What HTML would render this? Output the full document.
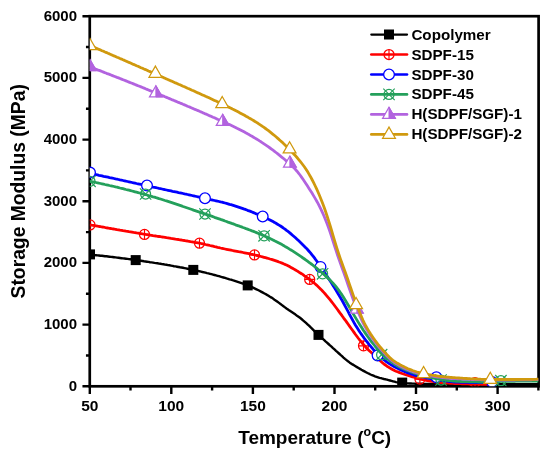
<!DOCTYPE html>
<html><head><meta charset="utf-8"><title>Storage Modulus vs Temperature</title>
<style>
html,body{margin:0;padding:0;background:#fff;}
svg{display:block;}
text{font-family:"Liberation Sans",Arial,sans-serif;font-weight:bold;fill:#000;}
</style></head><body>
<svg width="550" height="454" viewBox="0 0 550 454">
<rect width="550" height="454" fill="#fff"/>
<defs><clipPath id="plot"><rect x="89.75" y="16.2" width="448.85" height="370.1"/></clipPath></defs>

<rect x="89.75" y="16.2" width="448.85" height="370.1" fill="none" stroke="#000" stroke-width="2.7"/>
<path d="M89.8,386.3v7.6M130.5,386.3v4.2M171.3,386.3v7.6M212.1,386.3v4.2M252.9,386.3v7.6M293.7,386.3v4.2M334.5,386.3v7.6M375.2,386.3v4.2M416.0,386.3v7.6M456.8,386.3v4.2M497.6,386.3v7.6M538.4,386.3v4.2M89.75,386.3h-7.3M89.75,355.5h-3.8M89.75,324.6h-7.3M89.75,293.8h-3.8M89.75,262.9h-7.3M89.75,232.1h-3.8M89.75,201.2h-7.3M89.75,170.4h-3.8M89.75,139.6h-7.3M89.75,108.7h-3.8M89.75,77.9h-7.3M89.75,47.0h-3.8M89.75,16.2h-7.3" stroke="#000" stroke-width="2.4" fill="none"/>
<g clip-path="url(#plot)">
<path d="M90.0,254.6 L91.5,254.7 L93.0,254.9 L94.5,255.1 L96.0,255.2 L97.5,255.4 L99.0,255.5 L100.5,255.7 L102.0,255.8 L103.5,256.0 L105.0,256.2 L106.5,256.3 L108.0,256.5 L109.5,256.7 L111.0,256.9 L112.5,257.0 L114.0,257.2 L115.5,257.4 L117.0,257.6 L118.5,257.8 L120.0,258.0 L121.5,258.2 L123.0,258.4 L124.5,258.5 L126.0,258.7 L127.5,258.9 L129.0,259.1 L130.5,259.3 L132.0,259.6 L133.5,259.8 L135.0,260.0 L136.5,260.2 L138.0,260.4 L139.5,260.6 L141.0,260.8 L142.5,261.0 L144.0,261.3 L145.5,261.5 L147.0,261.7 L148.5,261.9 L150.0,262.2 L151.5,262.4 L153.0,262.6 L154.5,262.9 L156.0,263.1 L157.5,263.3 L159.0,263.6 L160.5,263.8 L162.0,264.1 L163.5,264.3 L165.0,264.6 L166.5,264.8 L168.0,265.1 L169.5,265.3 L171.0,265.6 L172.5,265.9 L174.0,266.2 L175.5,266.4 L177.0,266.7 L178.5,267.0 L180.0,267.3 L181.5,267.5 L183.0,267.8 L184.5,268.1 L186.0,268.4 L187.5,268.7 L189.0,269.0 L190.5,269.3 L192.0,269.6 L193.5,270.0 L195.0,270.3 L196.5,270.6 L198.0,270.9 L199.5,271.3 L201.0,271.6 L202.5,272.0 L204.0,272.3 L205.5,272.7 L207.0,273.1 L208.5,273.4 L210.0,273.8 L211.5,274.2 L213.0,274.6 L214.5,275.0 L216.0,275.4 L217.5,275.8 L219.0,276.2 L220.5,276.7 L222.0,277.1 L223.5,277.5 L225.0,277.9 L226.5,278.4 L228.0,278.8 L229.5,279.3 L231.0,279.7 L232.5,280.2 L234.0,280.6 L235.5,281.1 L237.0,281.6 L238.5,282.1 L240.0,282.6 L241.5,283.1 L243.0,283.7 L244.5,284.2 L246.0,284.8 L247.5,285.4 L249.0,286.0 L250.5,286.6 L252.0,287.2 L253.5,287.9 L255.0,288.6 L256.5,289.3 L258.0,290.0 L259.5,290.8 L261.0,291.6 L262.5,292.4 L264.0,293.2 L265.5,294.0 L267.0,294.9 L268.5,295.7 L270.0,296.7 L271.5,297.6 L273.0,298.6 L274.5,299.7 L276.0,300.7 L277.5,301.8 L279.0,302.9 L280.5,304.0 L282.0,305.1 L283.5,306.3 L285.0,307.4 L286.5,308.5 L288.0,309.5 L289.5,310.6 L291.0,311.6 L292.5,312.6 L294.0,313.6 L295.5,314.6 L297.0,315.7 L298.5,316.7 L300.0,317.8 L301.5,319.0 L303.0,320.3 L304.5,321.6 L306.0,322.9 L307.5,324.3 L309.0,325.7 L310.5,327.2 L312.0,328.6 L313.5,330.1 L315.0,331.5 L316.5,333.0 L318.0,334.4 L319.5,335.8 L321.0,337.2 L322.5,338.6 L324.0,339.9 L325.5,341.3 L327.0,342.6 L328.5,344.0 L330.0,345.4 L331.5,346.7 L333.0,348.1 L334.5,349.4 L336.0,350.8 L337.5,352.1 L339.0,353.5 L340.5,354.9 L342.0,356.2 L343.5,357.6 L345.0,358.9 L346.5,360.1 L348.0,361.3 L349.5,362.4 L351.0,363.4 L352.5,364.4 L354.0,365.3 L355.5,366.2 L357.0,367.1 L358.5,368.0 L360.0,368.9 L361.5,369.8 L363.0,370.6 L364.5,371.4 L366.0,372.2 L367.5,373.0 L369.0,373.7 L370.5,374.5 L372.0,375.1 L373.5,375.7 L375.0,376.3 L376.5,376.8 L378.0,377.3 L379.5,377.8 L381.0,378.2 L382.5,378.6 L384.0,379.0 L385.5,379.3 L387.0,379.7 L388.5,380.1 L390.0,380.5 L391.5,380.9 L393.0,381.3 L394.5,381.7 L396.0,382.1 L397.5,382.4 L399.0,382.7 L400.5,382.9 L402.0,383.1 L403.5,383.2 L405.0,383.3 L406.5,383.4 L408.0,383.4 L409.5,383.5 L411.0,383.5 L412.5,383.6 L414.0,383.6 L415.5,383.7 L417.0,383.7 L418.5,383.7 L420.0,383.8 L421.5,383.8 L423.0,383.8 L424.5,383.9 L426.0,383.9 L427.5,383.9 L429.0,383.9 L430.5,383.9 L432.0,383.9 L433.5,384.0 L435.0,384.0 L436.5,384.0 L438.0,384.0 L439.5,384.0 L441.0,384.0 L442.5,384.0 L444.0,384.0 L445.5,384.0 L447.0,384.0 L448.5,384.0 L450.0,384.0 L451.5,384.0 L453.0,384.1 L454.5,384.1 L456.0,384.1 L457.5,384.1 L459.0,384.1 L460.5,384.1 L462.0,384.1 L463.5,384.1 L465.0,384.1 L466.5,384.1 L468.0,384.1 L469.5,384.1 L471.0,384.1 L472.5,384.1 L474.0,384.1 L475.5,384.1 L477.0,384.1 L478.5,384.1 L480.0,384.1 L481.5,384.1 L483.0,384.1 L484.5,384.1 L486.0,384.1 L487.5,384.1 L489.0,384.2 L490.5,384.2 L492.0,384.2 L493.5,384.2 L495.0,384.2 L496.5,384.2 L498.0,384.2 L499.5,384.2 L501.0,384.2 L502.5,384.2 L504.0,384.2 L505.5,384.2 L507.0,384.2 L508.5,384.2 L510.0,384.2 L511.5,384.2 L513.0,384.2 L514.5,384.2 L516.0,384.2 L517.5,384.2 L519.0,384.2 L520.5,384.2 L522.0,384.2 L523.5,384.2 L525.0,384.2 L526.5,384.2 L528.0,384.2 L529.5,384.2 L531.0,384.2 L532.5,384.2 L534.0,384.2 L535.5,384.2 L537.0,384.2 L538.5,384.2" fill="none" stroke="#000000" stroke-width="2.4" stroke-linejoin="round"/>
<rect x="85.0" y="249.4" width="10" height="10" fill="#000000"/>
<rect x="130.7" y="255.1" width="10" height="10" fill="#000000"/>
<rect x="188.3" y="264.9" width="10" height="10" fill="#000000"/>
<rect x="242.7" y="280.4" width="10" height="10" fill="#000000"/>
<rect x="313.5" y="329.9" width="10" height="10" fill="#000000"/>
<rect x="397.2" y="377.6" width="10" height="10" fill="#000000"/>
<path d="M90.0,224.9 L91.5,225.2 L93.0,225.4 L94.5,225.7 L96.0,225.9 L97.5,226.2 L99.0,226.5 L100.5,226.7 L102.0,227.0 L103.5,227.2 L105.0,227.5 L106.5,227.8 L108.0,228.0 L109.5,228.3 L111.0,228.5 L112.5,228.8 L114.0,229.0 L115.5,229.3 L117.0,229.6 L118.5,229.8 L120.0,230.1 L121.5,230.3 L123.0,230.6 L124.5,230.8 L126.0,231.1 L127.5,231.3 L129.0,231.6 L130.5,231.8 L132.0,232.1 L133.5,232.4 L135.0,232.6 L136.5,232.9 L138.0,233.1 L139.5,233.4 L141.0,233.6 L142.5,233.9 L144.0,234.1 L145.5,234.4 L147.0,234.6 L148.5,234.9 L150.0,235.1 L151.5,235.3 L153.0,235.6 L154.5,235.8 L156.0,236.0 L157.5,236.3 L159.0,236.5 L160.5,236.7 L162.0,237.0 L163.5,237.2 L165.0,237.4 L166.5,237.7 L168.0,237.9 L169.5,238.1 L171.0,238.4 L172.5,238.6 L174.0,238.8 L175.5,239.1 L177.0,239.3 L178.5,239.5 L180.0,239.8 L181.5,240.0 L183.0,240.3 L184.5,240.5 L186.0,240.8 L187.5,241.0 L189.0,241.3 L190.5,241.6 L192.0,241.8 L193.5,242.1 L195.0,242.4 L196.5,242.6 L198.0,242.9 L199.5,243.2 L201.0,243.5 L202.5,243.8 L204.0,244.1 L205.5,244.5 L207.0,244.8 L208.5,245.1 L210.0,245.5 L211.5,245.8 L213.0,246.2 L214.5,246.6 L216.0,246.9 L217.5,247.3 L219.0,247.6 L220.5,248.0 L222.0,248.3 L223.5,248.7 L225.0,249.0 L226.5,249.3 L228.0,249.6 L229.5,249.9 L231.0,250.2 L232.5,250.5 L234.0,250.8 L235.5,251.1 L237.0,251.4 L238.5,251.7 L240.0,251.9 L241.5,252.2 L243.0,252.5 L244.5,252.8 L246.0,253.1 L247.5,253.4 L249.0,253.7 L250.5,254.0 L252.0,254.3 L253.5,254.7 L255.0,255.0 L256.5,255.4 L258.0,255.8 L259.5,256.1 L261.0,256.5 L262.5,256.9 L264.0,257.3 L265.5,257.7 L267.0,258.1 L268.5,258.5 L270.0,259.0 L271.5,259.4 L273.0,259.9 L274.5,260.4 L276.0,260.9 L277.5,261.4 L279.0,262.0 L280.5,262.5 L282.0,263.1 L283.5,263.8 L285.0,264.4 L286.5,265.1 L288.0,265.8 L289.5,266.6 L291.0,267.4 L292.5,268.2 L294.0,269.1 L295.5,270.0 L297.0,270.9 L298.5,271.8 L300.0,272.8 L301.5,273.7 L303.0,274.7 L304.5,275.8 L306.0,276.8 L307.5,277.9 L309.0,279.0 L310.5,280.1 L312.0,281.3 L313.5,282.5 L315.0,283.8 L316.5,285.1 L318.0,286.5 L319.5,287.9 L321.0,289.4 L322.5,291.0 L324.0,292.6 L325.5,294.3 L327.0,296.1 L328.5,297.9 L330.0,299.7 L331.5,301.6 L333.0,303.5 L334.5,305.5 L336.0,307.5 L337.5,309.5 L339.0,311.6 L340.5,313.7 L342.0,315.7 L343.5,317.8 L345.0,319.8 L346.5,321.9 L348.0,324.0 L349.5,326.1 L351.0,328.2 L352.5,330.3 L354.0,332.4 L355.5,334.5 L357.0,336.5 L358.5,338.5 L360.0,340.4 L361.5,342.2 L363.0,344.0 L364.5,345.7 L366.0,347.4 L367.5,348.9 L369.0,350.4 L370.5,351.8 L372.0,353.1 L373.5,354.5 L375.0,355.9 L376.5,357.3 L378.0,358.8 L379.5,360.1 L381.0,361.5 L382.5,362.8 L384.0,364.0 L385.5,365.1 L387.0,366.2 L388.5,367.1 L390.0,368.1 L391.5,368.9 L393.0,369.7 L394.5,370.5 L396.0,371.2 L397.5,371.8 L399.0,372.4 L400.5,373.0 L402.0,373.5 L403.5,374.0 L405.0,374.5 L406.5,375.0 L408.0,375.4 L409.5,375.9 L411.0,376.3 L412.5,376.8 L414.0,377.2 L415.5,377.7 L417.0,378.2 L418.5,378.6 L420.0,379.0 L421.5,379.4 L423.0,379.7 L424.5,380.0 L426.0,380.3 L427.5,380.6 L429.0,380.9 L430.5,381.1 L432.0,381.4 L433.5,381.6 L435.0,381.8 L436.5,382.0 L438.0,382.2 L439.5,382.4 L441.0,382.6 L442.5,382.7 L444.0,382.9 L445.5,383.0 L447.0,383.1 L448.5,383.2 L450.0,383.3 L451.5,383.4 L453.0,383.4 L454.5,383.5 L456.0,383.6 L457.5,383.6 L459.0,383.7 L460.5,383.7 L462.0,383.8 L463.5,383.8 L465.0,383.9 L466.5,383.9 L468.0,383.9 L469.5,384.0 L471.0,384.0 L472.5,384.1 L474.0,384.1 L475.5,384.1 L477.0,384.2 L478.5,384.2 L480.0,384.2 L481.5,384.3 L483.0,384.3 L484.5,384.3 L486.0,384.3 L487.5,384.4 L489.0,384.4" fill="none" stroke="#ff0000" stroke-width="2.8" stroke-linejoin="round"/>
<circle cx="90.0" cy="224.9" r="5.0" fill="none" stroke="#ff0000" stroke-width="1.25"/><path d="M85.0,224.9h10M90.0,219.9v10" stroke="#ff0000" stroke-width="1.15" fill="none"/>
<circle cx="144.5" cy="234.4" r="5.0" fill="none" stroke="#ff0000" stroke-width="1.25"/><path d="M139.5,234.4h10M144.5,229.4v10" stroke="#ff0000" stroke-width="1.15" fill="none"/>
<circle cx="199.5" cy="243.2" r="5.0" fill="none" stroke="#ff0000" stroke-width="1.25"/><path d="M194.5,243.2h10M199.5,238.2v10" stroke="#ff0000" stroke-width="1.15" fill="none"/>
<circle cx="254.5" cy="254.9" r="5.0" fill="none" stroke="#ff0000" stroke-width="1.25"/><path d="M249.5,254.9h10M254.5,249.9v10" stroke="#ff0000" stroke-width="1.15" fill="none"/>
<circle cx="309.7" cy="279.4" r="5.0" fill="none" stroke="#ff0000" stroke-width="1.25"/><path d="M304.7,279.4h10M309.7,274.4v10" stroke="#ff0000" stroke-width="1.15" fill="none"/>
<circle cx="363.5" cy="345.8" r="5.0" fill="none" stroke="#ff0000" stroke-width="1.25"/><path d="M358.5,345.8h10M363.5,340.8v10" stroke="#ff0000" stroke-width="1.15" fill="none"/>
<circle cx="419.9" cy="379.1" r="5.0" fill="none" stroke="#ff0000" stroke-width="1.25"/><path d="M414.9,379.1h10M419.9,374.1v10" stroke="#ff0000" stroke-width="1.15" fill="none"/>
<circle cx="475.0" cy="382.5" r="5.0" fill="none" stroke="#ff0000" stroke-width="1.25"/><path d="M470.0,382.5h10M475.0,377.5v10" stroke="#ff0000" stroke-width="1.15" fill="none"/>
<path d="M90.0,173.3 L91.5,173.6 L93.0,174.0 L94.5,174.3 L96.0,174.6 L97.5,174.9 L99.0,175.3 L100.5,175.6 L102.0,175.9 L103.5,176.3 L105.0,176.6 L106.5,176.9 L108.0,177.2 L109.5,177.6 L111.0,177.9 L112.5,178.2 L114.0,178.5 L115.5,178.9 L117.0,179.2 L118.5,179.5 L120.0,179.9 L121.5,180.2 L123.0,180.5 L124.5,180.8 L126.0,181.2 L127.5,181.5 L129.0,181.8 L130.5,182.2 L132.0,182.5 L133.5,182.8 L135.0,183.1 L136.5,183.5 L138.0,183.8 L139.5,184.1 L141.0,184.4 L142.5,184.8 L144.0,185.1 L145.5,185.4 L147.0,185.8 L148.5,186.1 L150.0,186.4 L151.5,186.7 L153.0,187.1 L154.5,187.4 L156.0,187.7 L157.5,188.0 L159.0,188.4 L160.5,188.7 L162.0,189.0 L163.5,189.3 L165.0,189.7 L166.5,190.0 L168.0,190.3 L169.5,190.6 L171.0,190.9 L172.5,191.3 L174.0,191.6 L175.5,191.9 L177.0,192.2 L178.5,192.6 L180.0,192.9 L181.5,193.2 L183.0,193.5 L184.5,193.9 L186.0,194.2 L187.5,194.5 L189.0,194.8 L190.5,195.2 L192.0,195.5 L193.5,195.8 L195.0,196.2 L196.5,196.5 L198.0,196.8 L199.5,197.2 L201.0,197.5 L202.5,197.8 L204.0,198.2 L205.5,198.5 L207.0,198.8 L208.5,199.2 L210.0,199.5 L211.5,199.8 L213.0,200.2 L214.5,200.5 L216.0,200.8 L217.5,201.2 L219.0,201.5 L220.5,201.9 L222.0,202.2 L223.5,202.6 L225.0,203.0 L226.5,203.4 L228.0,203.8 L229.5,204.3 L231.0,204.7 L232.5,205.1 L234.0,205.6 L235.5,206.1 L237.0,206.6 L238.5,207.1 L240.0,207.6 L241.5,208.1 L243.0,208.6 L244.5,209.2 L246.0,209.7 L247.5,210.3 L249.0,210.8 L250.5,211.4 L252.0,212.0 L253.5,212.6 L255.0,213.2 L256.5,213.9 L258.0,214.5 L259.5,215.1 L261.0,215.8 L262.5,216.4 L264.0,217.1 L265.5,217.8 L267.0,218.5 L268.5,219.3 L270.0,220.0 L271.5,220.8 L273.0,221.6 L274.5,222.4 L276.0,223.3 L277.5,224.2 L279.0,225.1 L280.5,226.0 L282.0,227.0 L283.5,228.1 L285.0,229.1 L286.5,230.3 L288.0,231.4 L289.5,232.6 L291.0,233.9 L292.5,235.2 L294.0,236.5 L295.5,237.8 L297.0,239.2 L298.5,240.6 L300.0,242.0 L301.5,243.4 L303.0,244.9 L304.5,246.4 L306.0,247.9 L307.5,249.5 L309.0,251.2 L310.5,252.9 L312.0,254.8 L313.5,256.7 L315.0,258.7 L316.5,260.8 L318.0,262.9 L319.5,265.1 L321.0,267.2 L322.5,269.4 L324.0,271.6 L325.5,273.9 L327.0,276.1 L328.5,278.4 L330.0,280.7 L331.5,283.0 L333.0,285.4 L334.5,287.8 L336.0,290.2 L337.5,292.7 L339.0,295.2 L340.5,297.7 L342.0,300.3 L343.5,303.0 L345.0,305.8 L346.5,308.6 L348.0,311.4 L349.5,314.3 L351.0,317.1 L352.5,319.9 L354.0,322.6 L355.5,325.2 L357.0,327.6 L358.5,330.0 L360.0,332.3 L361.5,334.4 L363.0,336.5 L364.5,338.6 L366.0,340.5 L367.5,342.4 L369.0,344.3 L370.5,346.1 L372.0,347.9 L373.5,349.7 L375.0,351.4 L376.5,353.0 L378.0,354.5 L379.5,356.0 L381.0,357.4 L382.5,358.6 L384.0,359.8 L385.5,361.0 L387.0,362.1 L388.5,363.1 L390.0,364.1 L391.5,365.0 L393.0,365.9 L394.5,366.7 L396.0,367.5 L397.5,368.3 L399.0,369.0 L400.5,369.7 L402.0,370.4 L403.5,371.0 L405.0,371.7 L406.5,372.3 L408.0,372.8 L409.5,373.4 L411.0,373.9 L412.5,374.4 L414.0,374.8 L415.5,375.3 L417.0,375.7 L418.5,376.1 L420.0,376.4 L421.5,376.8 L423.0,377.1 L424.5,377.5 L426.0,377.8 L427.5,378.1 L429.0,378.4 L430.5,378.6 L432.0,378.9 L433.5,379.1 L435.0,379.4 L436.5,379.6 L438.0,379.8 L439.5,380.1 L441.0,380.3 L442.5,380.5 L444.0,380.8 L445.5,381.0 L447.0,381.2 L448.5,381.4 L450.0,381.6 L451.5,381.7 L453.0,381.9 L454.5,382.0 L456.0,382.1 L457.5,382.2 L459.0,382.2 L460.5,382.3 L462.0,382.3 L463.5,382.3 L465.0,382.4 L466.5,382.4 L468.0,382.4 L469.5,382.5 L471.0,382.5 L472.5,382.5 L474.0,382.5 L475.5,382.5 L477.0,382.6 L478.5,382.6 L480.0,382.6 L481.5,382.6 L483.0,382.6 L484.5,382.6 L486.0,382.6 L487.5,382.5 L489.0,382.5 L490.5,382.5 L492.0,382.4 L493.5,382.3 L495.0,382.3 L496.5,382.2 L498.0,382.1 L499.5,382.0" fill="none" stroke="#0000ff" stroke-width="2.8" stroke-linejoin="round"/>
<circle cx="90.0" cy="172.6" r="5.35" fill="#fff" stroke="#0000ff" stroke-width="1.3"/>
<circle cx="147.0" cy="185.5" r="5.35" fill="#fff" stroke="#0000ff" stroke-width="1.3"/>
<circle cx="205.0" cy="198.2" r="5.35" fill="#fff" stroke="#0000ff" stroke-width="1.3"/>
<circle cx="262.7" cy="216.5" r="5.35" fill="#fff" stroke="#0000ff" stroke-width="1.3"/>
<circle cx="320.5" cy="266.9" r="5.35" fill="#fff" stroke="#0000ff" stroke-width="1.3"/>
<circle cx="377.6" cy="355.4" r="5.35" fill="#fff" stroke="#0000ff" stroke-width="1.3"/>
<circle cx="436.4" cy="377.2" r="5.35" fill="#fff" stroke="#0000ff" stroke-width="1.3"/>
<circle cx="492.0" cy="382.0" r="5.35" fill="#fff" stroke="#0000ff" stroke-width="1.3"/>
<path d="M90.0,181.3 L91.5,181.6 L93.0,181.9 L94.5,182.2 L96.0,182.5 L97.5,182.8 L99.0,183.2 L100.5,183.5 L102.0,183.8 L103.5,184.1 L105.0,184.5 L106.5,184.8 L108.0,185.1 L109.5,185.5 L111.0,185.8 L112.5,186.2 L114.0,186.5 L115.5,186.9 L117.0,187.2 L118.5,187.6 L120.0,188.0 L121.5,188.3 L123.0,188.7 L124.5,189.1 L126.0,189.5 L127.5,189.8 L129.0,190.2 L130.5,190.6 L132.0,191.0 L133.5,191.4 L135.0,191.8 L136.5,192.2 L138.0,192.6 L139.5,193.0 L141.0,193.4 L142.5,193.8 L144.0,194.2 L145.5,194.6 L147.0,195.0 L148.5,195.5 L150.0,195.9 L151.5,196.3 L153.0,196.8 L154.5,197.2 L156.0,197.7 L157.5,198.1 L159.0,198.6 L160.5,199.0 L162.0,199.5 L163.5,200.0 L165.0,200.5 L166.5,200.9 L168.0,201.4 L169.5,201.9 L171.0,202.4 L172.5,202.9 L174.0,203.4 L175.5,203.9 L177.0,204.4 L178.5,204.9 L180.0,205.4 L181.5,205.9 L183.0,206.5 L184.5,207.0 L186.0,207.5 L187.5,208.0 L189.0,208.5 L190.5,209.0 L192.0,209.5 L193.5,210.1 L195.0,210.6 L196.5,211.1 L198.0,211.6 L199.5,212.1 L201.0,212.6 L202.5,213.1 L204.0,213.7 L205.5,214.2 L207.0,214.7 L208.5,215.2 L210.0,215.7 L211.5,216.2 L213.0,216.7 L214.5,217.3 L216.0,217.8 L217.5,218.3 L219.0,218.8 L220.5,219.4 L222.0,219.9 L223.5,220.4 L225.0,221.0 L226.5,221.5 L228.0,222.1 L229.5,222.6 L231.0,223.1 L232.5,223.7 L234.0,224.2 L235.5,224.8 L237.0,225.3 L238.5,225.8 L240.0,226.4 L241.5,226.9 L243.0,227.5 L244.5,228.0 L246.0,228.6 L247.5,229.1 L249.0,229.7 L250.5,230.3 L252.0,230.9 L253.5,231.4 L255.0,232.0 L256.5,232.6 L258.0,233.2 L259.5,233.9 L261.0,234.5 L262.5,235.1 L264.0,235.8 L265.5,236.4 L267.0,237.1 L268.5,237.8 L270.0,238.5 L271.5,239.2 L273.0,239.9 L274.5,240.7 L276.0,241.4 L277.5,242.2 L279.0,243.0 L280.5,243.8 L282.0,244.6 L283.5,245.5 L285.0,246.4 L286.5,247.2 L288.0,248.1 L289.5,249.1 L291.0,250.0 L292.5,250.9 L294.0,251.9 L295.5,252.9 L297.0,253.9 L298.5,254.9 L300.0,255.9 L301.5,256.9 L303.0,258.0 L304.5,259.0 L306.0,260.1 L307.5,261.2 L309.0,262.3 L310.5,263.4 L312.0,264.5 L313.5,265.7 L315.0,266.8 L316.5,268.0 L318.0,269.3 L319.5,270.5 L321.0,271.8 L322.5,273.1 L324.0,274.4 L325.5,275.7 L327.0,277.1 L328.5,278.5 L330.0,280.0 L331.5,281.6 L333.0,283.2 L334.5,284.9 L336.0,286.7 L337.5,288.6 L339.0,290.6 L340.5,292.7 L342.0,294.9 L343.5,297.3 L345.0,299.7 L346.5,302.2 L348.0,304.8 L349.5,307.3 L351.0,309.9 L352.5,312.5 L354.0,315.1 L355.5,317.6 L357.0,320.1 L358.5,322.6 L360.0,325.0 L361.5,327.3 L363.0,329.7 L364.5,331.9 L366.0,334.1 L367.5,336.2 L369.0,338.3 L370.5,340.3 L372.0,342.3 L373.5,344.1 L375.0,346.0 L376.5,347.8 L378.0,349.5 L379.5,351.1 L381.0,352.7 L382.5,354.2 L384.0,355.7 L385.5,357.1 L387.0,358.5 L388.5,359.8 L390.0,361.1 L391.5,362.2 L393.0,363.2 L394.5,364.2 L396.0,365.1 L397.5,365.9 L399.0,366.7 L400.5,367.5 L402.0,368.2 L403.5,368.9 L405.0,369.5 L406.5,370.1 L408.0,370.7 L409.5,371.3 L411.0,371.9 L412.5,372.4 L414.0,372.9 L415.5,373.5 L417.0,374.0 L418.5,374.4 L420.0,374.9 L421.5,375.3 L423.0,375.7 L424.5,376.1 L426.0,376.5 L427.5,376.9 L429.0,377.2 L430.5,377.5 L432.0,377.9 L433.5,378.2 L435.0,378.5 L436.5,378.7 L438.0,379.0 L439.5,379.2 L441.0,379.5 L442.5,379.7 L444.0,379.9 L445.5,380.1 L447.0,380.3 L448.5,380.5 L450.0,380.7 L451.5,380.9 L453.0,381.0 L454.5,381.2 L456.0,381.3 L457.5,381.4 L459.0,381.4 L460.5,381.5 L462.0,381.6 L463.5,381.6 L465.0,381.7 L466.5,381.7 L468.0,381.7 L469.5,381.8 L471.0,381.8 L472.5,381.9 L474.0,381.9 L475.5,381.9 L477.0,381.9 L478.5,382.0 L480.0,382.0 L481.5,382.0 L483.0,382.0 L484.5,382.0 L486.0,382.0 L487.5,381.9 L489.0,381.9 L490.5,381.9 L492.0,381.8 L493.5,381.7 L495.0,381.7 L496.5,381.6 L498.0,381.5 L499.5,381.5 L501.0,381.4 L502.5,381.4 L504.0,381.3 L505.5,381.3 L507.0,381.3 L508.5,381.3 L510.0,381.3 L511.5,381.3 L513.0,381.3 L514.5,381.3 L516.0,381.2 L517.5,381.2 L519.0,381.2 L520.5,381.2 L522.0,381.2 L523.5,381.2 L525.0,381.2 L526.5,381.2 L528.0,381.2 L529.5,381.2 L531.0,381.2 L532.5,381.2 L534.0,381.2 L535.5,381.2 L537.0,381.2 L538.5,381.2" fill="none" stroke="#24a05b" stroke-width="2.8" stroke-linejoin="round"/>
<circle cx="90.0" cy="181.3" r="5.0" fill="none" stroke="#24a05b" stroke-width="1.25"/><path d="M84.3,175.6l11.4,11.4M95.7,175.6l-11.4,11.4" stroke="#24a05b" stroke-width="1.15" fill="none"/>
<circle cx="145.6" cy="194.0" r="5.0" fill="none" stroke="#24a05b" stroke-width="1.25"/><path d="M139.9,188.3l11.4,11.4M151.3,188.3l-11.4,11.4" stroke="#24a05b" stroke-width="1.15" fill="none"/>
<circle cx="205.0" cy="214.0" r="5.0" fill="none" stroke="#24a05b" stroke-width="1.25"/><path d="M199.3,208.3l11.4,11.4M210.7,208.3l-11.4,11.4" stroke="#24a05b" stroke-width="1.15" fill="none"/>
<circle cx="264.1" cy="235.8" r="5.0" fill="none" stroke="#24a05b" stroke-width="1.25"/><path d="M258.4,230.1l11.4,11.4M269.8,230.1l-11.4,11.4" stroke="#24a05b" stroke-width="1.15" fill="none"/>
<circle cx="322.6" cy="273.8" r="5.0" fill="none" stroke="#24a05b" stroke-width="1.25"/><path d="M316.9,268.1l11.4,11.4M328.3,268.1l-11.4,11.4" stroke="#24a05b" stroke-width="1.15" fill="none"/>
<circle cx="381.6" cy="354.7" r="5.0" fill="none" stroke="#24a05b" stroke-width="1.25"/><path d="M375.9,349.0l11.4,11.4M387.3,349.0l-11.4,11.4" stroke="#24a05b" stroke-width="1.15" fill="none"/>
<circle cx="441.0" cy="380.0" r="5.0" fill="none" stroke="#24a05b" stroke-width="1.25"/><path d="M435.3,374.3l11.4,11.4M446.7,374.3l-11.4,11.4" stroke="#24a05b" stroke-width="1.15" fill="none"/>
<circle cx="500.9" cy="380.7" r="5.0" fill="none" stroke="#24a05b" stroke-width="1.25"/><path d="M495.2,375.0l11.4,11.4M506.6,375.0l-11.4,11.4" stroke="#24a05b" stroke-width="1.15" fill="none"/>
<path d="M90.0,66.9 L91.5,67.5 L93.0,68.0 L94.5,68.6 L96.0,69.2 L97.5,69.8 L99.0,70.3 L100.5,70.9 L102.0,71.5 L103.5,72.1 L105.0,72.7 L106.5,73.3 L108.0,73.8 L109.5,74.4 L111.0,75.0 L112.5,75.6 L114.0,76.2 L115.5,76.8 L117.0,77.4 L118.5,77.9 L120.0,78.5 L121.5,79.1 L123.0,79.7 L124.5,80.3 L126.0,80.9 L127.5,81.5 L129.0,82.1 L130.5,82.7 L132.0,83.3 L133.5,83.9 L135.0,84.5 L136.5,85.1 L138.0,85.7 L139.5,86.3 L141.0,86.9 L142.5,87.5 L144.0,88.1 L145.5,88.8 L147.0,89.4 L148.5,90.0 L150.0,90.6 L151.5,91.2 L153.0,91.8 L154.5,92.4 L156.0,93.0 L157.5,93.7 L159.0,94.3 L160.5,94.9 L162.0,95.5 L163.5,96.1 L165.0,96.8 L166.5,97.4 L168.0,98.0 L169.5,98.6 L171.0,99.2 L172.5,99.9 L174.0,100.5 L175.5,101.1 L177.0,101.7 L178.5,102.4 L180.0,103.0 L181.5,103.6 L183.0,104.3 L184.5,104.9 L186.0,105.5 L187.5,106.2 L189.0,106.8 L190.5,107.4 L192.0,108.1 L193.5,108.7 L195.0,109.4 L196.5,110.0 L198.0,110.6 L199.5,111.3 L201.0,111.9 L202.5,112.6 L204.0,113.2 L205.5,113.9 L207.0,114.5 L208.5,115.2 L210.0,115.9 L211.5,116.5 L213.0,117.2 L214.5,117.8 L216.0,118.5 L217.5,119.2 L219.0,119.8 L220.5,120.5 L222.0,121.2 L223.5,121.9 L225.0,122.5 L226.5,123.2 L228.0,123.9 L229.5,124.6 L231.0,125.3 L232.5,126.0 L234.0,126.7 L235.5,127.4 L237.0,128.2 L238.5,128.9 L240.0,129.7 L241.5,130.5 L243.0,131.3 L244.5,132.1 L246.0,132.9 L247.5,133.8 L249.0,134.6 L250.5,135.5 L252.0,136.3 L253.5,137.2 L255.0,138.1 L256.5,139.0 L258.0,139.9 L259.5,140.9 L261.0,141.8 L262.5,142.8 L264.0,143.8 L265.5,144.8 L267.0,145.8 L268.5,146.9 L270.0,148.0 L271.5,149.1 L273.0,150.2 L274.5,151.3 L276.0,152.5 L277.5,153.7 L279.0,154.9 L280.5,156.1 L282.0,157.3 L283.5,158.5 L285.0,159.8 L286.5,161.1 L288.0,162.4 L289.5,163.7 L291.0,165.0 L292.5,166.5 L294.0,167.9 L295.5,169.5 L297.0,171.2 L298.5,173.1 L300.0,175.0 L301.5,177.1 L303.0,179.3 L304.5,181.5 L306.0,183.8 L307.5,186.1 L309.0,188.4 L310.5,190.7 L312.0,193.1 L313.5,195.6 L315.0,198.1 L316.5,200.7 L318.0,203.4 L319.5,206.3 L321.0,209.3 L322.5,212.6 L324.0,216.0 L325.5,219.6 L327.0,223.4 L328.5,227.5 L330.0,231.9 L331.5,236.4 L333.0,241.1 L334.5,245.8 L336.0,250.4 L337.5,255.0 L339.0,259.3 L340.5,263.6 L342.0,267.7 L343.5,271.9 L345.0,276.1 L346.5,280.3 L348.0,284.7 L349.5,289.0 L351.0,293.3 L352.5,297.5 L354.0,301.5 L355.5,305.3 L357.0,309.0 L358.5,312.7 L360.0,316.3 L361.5,319.7 L363.0,322.8 L364.5,325.7 L366.0,328.4 L367.5,330.9 L369.0,333.3 L370.5,335.6 L372.0,337.7 L373.5,339.9 L375.0,341.9 L376.5,343.9 L378.0,345.8 L379.5,347.6 L381.0,349.3 L382.5,351.1 L384.0,352.8 L385.5,354.4 L387.0,356.1 L388.5,357.6 L390.0,359.0 L391.5,360.3 L393.0,361.4 L394.5,362.5 L396.0,363.5 L397.5,364.4 L399.0,365.3 L400.5,366.2 L402.0,367.0 L403.5,367.7 L405.0,368.5 L406.5,369.1 L408.0,369.8 L409.5,370.4 L411.0,371.0 L412.5,371.5 L414.0,372.1 L415.5,372.5 L417.0,373.0 L418.5,373.4 L420.0,373.8 L421.5,374.1 L423.0,374.5 L424.5,374.8 L426.0,375.1 L427.5,375.4 L429.0,375.7 L430.5,375.9 L432.0,376.2 L433.5,376.4 L435.0,376.6 L436.5,376.8 L438.0,377.0 L439.5,377.2 L441.0,377.4 L442.5,377.6 L444.0,377.7 L445.5,377.9 L447.0,378.0 L448.5,378.2 L450.0,378.3 L451.5,378.4 L453.0,378.5 L454.5,378.6 L456.0,378.7 L457.5,378.8 L459.0,378.8 L460.5,378.9 L462.0,378.9 L463.5,379.0 L465.0,379.0 L466.5,379.1 L468.0,379.1 L469.5,379.2 L471.0,379.3 L472.5,379.3 L474.0,379.4 L475.5,379.5 L477.0,379.6 L478.5,379.7 L480.0,379.7 L481.5,379.8 L483.0,379.8 L484.5,379.8 L486.0,379.9 L487.5,379.9 L489.0,379.9 L490.5,379.9 L492.0,380.0 L493.5,380.0 L495.0,380.0 L496.5,380.0 L498.0,380.0 L499.5,380.0 L501.0,380.0 L502.5,380.0 L504.0,380.0 L505.5,380.0 L507.0,380.0 L508.5,380.0 L510.0,380.0 L511.5,380.0 L513.0,380.0 L514.5,380.0 L516.0,379.9 L517.5,379.9 L519.0,379.9 L520.5,379.9 L522.0,379.9 L523.5,379.9 L525.0,379.9 L526.5,379.8 L528.0,379.8 L529.5,379.8 L531.0,379.8 L532.5,379.7 L534.0,379.7 L535.5,379.7 L537.0,379.6 L538.5,379.6" fill="none" stroke="#b263df" stroke-width="2.8" stroke-linejoin="round"/>
<path d="M90.0,59.5L96.4,70.7L83.6,70.7Z" fill="#fff" stroke="#b263df" stroke-width="1.25"/><path d="M90.0,59.5L96.4,70.7L90.0,70.7Z" fill="#b263df" stroke="#b263df" stroke-width="1"/>
<path d="M155.9,85.7L162.3,96.9L149.5,96.9Z" fill="#fff" stroke="#b263df" stroke-width="1.25"/><path d="M155.9,85.7L162.3,96.9L155.9,96.9Z" fill="#b263df" stroke="#b263df" stroke-width="1"/>
<path d="M222.7,114.2L229.1,125.4L216.3,125.4Z" fill="#fff" stroke="#b263df" stroke-width="1.25"/><path d="M222.7,114.2L229.1,125.4L222.7,125.4Z" fill="#b263df" stroke="#b263df" stroke-width="1"/>
<path d="M289.9,156.0L296.3,167.2L283.5,167.2Z" fill="#fff" stroke="#b263df" stroke-width="1.25"/><path d="M289.9,156.0L296.3,167.2L289.9,167.2Z" fill="#b263df" stroke="#b263df" stroke-width="1"/>
<path d="M356.9,302.0L363.3,313.2L350.5,313.2Z" fill="#fff" stroke="#b263df" stroke-width="1.25"/><path d="M356.9,302.0L363.3,313.2L356.9,313.2Z" fill="#b263df" stroke="#b263df" stroke-width="1"/>
<path d="M90.0,45.5 L91.5,46.1 L93.0,46.8 L94.5,47.4 L96.0,48.1 L97.5,48.7 L99.0,49.4 L100.5,50.0 L102.0,50.7 L103.5,51.3 L105.0,52.0 L106.5,52.6 L108.0,53.3 L109.5,53.9 L111.0,54.6 L112.5,55.2 L114.0,55.9 L115.5,56.5 L117.0,57.2 L118.5,57.8 L120.0,58.5 L121.5,59.1 L123.0,59.8 L124.5,60.4 L126.0,61.1 L127.5,61.7 L129.0,62.4 L130.5,63.0 L132.0,63.7 L133.5,64.4 L135.0,65.0 L136.5,65.7 L138.0,66.3 L139.5,67.0 L141.0,67.7 L142.5,68.3 L144.0,69.0 L145.5,69.6 L147.0,70.3 L148.5,71.0 L150.0,71.6 L151.5,72.3 L153.0,72.9 L154.5,73.6 L156.0,74.3 L157.5,74.9 L159.0,75.6 L160.5,76.3 L162.0,76.9 L163.5,77.6 L165.0,78.2 L166.5,78.9 L168.0,79.6 L169.5,80.2 L171.0,80.9 L172.5,81.5 L174.0,82.2 L175.5,82.9 L177.0,83.5 L178.5,84.2 L180.0,84.8 L181.5,85.5 L183.0,86.2 L184.5,86.8 L186.0,87.5 L187.5,88.2 L189.0,88.8 L190.5,89.5 L192.0,90.2 L193.5,90.8 L195.0,91.5 L196.5,92.2 L198.0,92.9 L199.5,93.5 L201.0,94.2 L202.5,94.9 L204.0,95.6 L205.5,96.3 L207.0,96.9 L208.5,97.6 L210.0,98.3 L211.5,99.0 L213.0,99.7 L214.5,100.4 L216.0,101.1 L217.5,101.8 L219.0,102.5 L220.5,103.2 L222.0,103.9 L223.5,104.6 L225.0,105.3 L226.5,106.0 L228.0,106.8 L229.5,107.5 L231.0,108.2 L232.5,109.0 L234.0,109.7 L235.5,110.5 L237.0,111.3 L238.5,112.1 L240.0,112.9 L241.5,113.7 L243.0,114.5 L244.5,115.3 L246.0,116.2 L247.5,117.0 L249.0,117.9 L250.5,118.7 L252.0,119.6 L253.5,120.5 L255.0,121.5 L256.5,122.4 L258.0,123.3 L259.5,124.3 L261.0,125.3 L262.5,126.4 L264.0,127.4 L265.5,128.5 L267.0,129.6 L268.5,130.7 L270.0,131.9 L271.5,133.1 L273.0,134.3 L274.5,135.5 L276.0,136.8 L277.5,138.1 L279.0,139.4 L280.5,140.8 L282.0,142.1 L283.5,143.6 L285.0,145.0 L286.5,146.5 L288.0,147.9 L289.5,149.4 L291.0,151.0 L292.5,152.6 L294.0,154.2 L295.5,155.8 L297.0,157.5 L298.5,159.3 L300.0,161.1 L301.5,163.0 L303.0,165.0 L304.5,167.0 L306.0,169.2 L307.5,171.6 L309.0,174.1 L310.5,176.7 L312.0,179.5 L313.5,182.4 L315.0,185.5 L316.5,188.7 L318.0,192.0 L319.5,195.5 L321.0,199.2 L322.5,203.0 L324.0,207.0 L325.5,211.3 L327.0,215.7 L328.5,220.4 L330.0,225.2 L331.5,230.2 L333.0,235.3 L334.5,240.3 L336.0,245.3 L337.5,250.1 L339.0,254.7 L340.5,259.1 L342.0,263.3 L343.5,267.5 L345.0,271.6 L346.5,275.8 L348.0,280.0 L349.5,284.4 L351.0,288.7 L352.5,293.1 L354.0,297.4 L355.5,301.5 L357.0,305.6 L358.5,309.5 L360.0,313.3 L361.5,316.9 L363.0,320.3 L364.5,323.4 L366.0,326.3 L367.5,328.9 L369.0,331.4 L370.5,333.8 L372.0,336.0 L373.5,338.2 L375.0,340.3 L376.5,342.3 L378.0,344.3 L379.5,346.2 L381.0,347.9 L382.5,349.7 L384.0,351.4 L385.5,353.1 L387.0,354.8 L388.5,356.3 L390.0,357.8 L391.5,359.1 L393.0,360.3 L394.5,361.3 L396.0,362.3 L397.5,363.3 L399.0,364.1 L400.5,365.0 L402.0,365.8 L403.5,366.5 L405.0,367.3 L406.5,368.0 L408.0,368.7 L409.5,369.3 L411.0,369.9 L412.5,370.5 L414.0,371.0 L415.5,371.5 L417.0,372.0 L418.5,372.4 L420.0,372.8 L421.5,373.1 L423.0,373.5 L424.5,373.8 L426.0,374.1 L427.5,374.4 L429.0,374.7 L430.5,374.9 L432.0,375.2 L433.5,375.4 L435.0,375.7 L436.5,375.9 L438.0,376.1 L439.5,376.3 L441.0,376.5 L442.5,376.7 L444.0,376.8 L445.5,377.0 L447.0,377.1 L448.5,377.2 L450.0,377.4 L451.5,377.5 L453.0,377.6 L454.5,377.7 L456.0,377.8 L457.5,377.9 L459.0,378.0 L460.5,378.1 L462.0,378.2 L463.5,378.3 L465.0,378.4 L466.5,378.5 L468.0,378.6 L469.5,378.7 L471.0,378.8 L472.5,378.8 L474.0,378.9 L475.5,379.0 L477.0,379.1 L478.5,379.2 L480.0,379.2 L481.5,379.3 L483.0,379.3 L484.5,379.3 L486.0,379.4 L487.5,379.4 L489.0,379.4 L490.5,379.4 L492.0,379.5 L493.5,379.5 L495.0,379.5 L496.5,379.5 L498.0,379.5 L499.5,379.5 L501.0,379.5 L502.5,379.5 L504.0,379.5 L505.5,379.5 L507.0,379.5 L508.5,379.5 L510.0,379.5 L511.5,379.5 L513.0,379.5 L514.5,379.5 L516.0,379.5 L517.5,379.5 L519.0,379.5 L520.5,379.4 L522.0,379.4 L523.5,379.4 L525.0,379.4 L526.5,379.4 L528.0,379.4 L529.5,379.4 L531.0,379.3 L532.5,379.3 L534.0,379.3 L535.5,379.3 L537.0,379.2 L538.5,379.2" fill="none" stroke="#d0990e" stroke-width="2.8" stroke-linejoin="round"/>
<path d="M90.0,38.5L96.4,49.7L83.6,49.7Z" fill="#fff" stroke="#d0990e" stroke-width="1.25"/>
<path d="M155.4,66.1L161.8,77.3L149.0,77.3Z" fill="#fff" stroke="#d0990e" stroke-width="1.25"/>
<path d="M222.2,96.5L228.6,107.7L215.8,107.7Z" fill="#fff" stroke="#d0990e" stroke-width="1.25"/>
<path d="M289.6,141.7L296.0,152.9L283.2,152.9Z" fill="#fff" stroke="#d0990e" stroke-width="1.25"/>
<path d="M356.1,297.5L362.5,308.7L349.7,308.7Z" fill="#fff" stroke="#d0990e" stroke-width="1.25"/>
<path d="M423.6,366.5L430.0,377.7L417.2,377.7Z" fill="#fff" stroke="#d0990e" stroke-width="1.25"/>
<path d="M490.3,372.2L496.7,383.4L483.9,383.4Z" fill="#fff" stroke="#d0990e" stroke-width="1.25"/>
</g>
<text x="89.8" y="410.7" font-size="15.5" text-anchor="middle">50</text>
<text x="171.3" y="410.7" font-size="15.5" text-anchor="middle">100</text>
<text x="252.9" y="410.7" font-size="15.5" text-anchor="middle">150</text>
<text x="334.5" y="410.7" font-size="15.5" text-anchor="middle">200</text>
<text x="416.0" y="410.7" font-size="15.5" text-anchor="middle">250</text>
<text x="497.6" y="410.7" font-size="15.5" text-anchor="middle">300</text>
<text x="77" y="390.6" font-size="15" text-anchor="end">0</text>
<text x="77" y="328.9" font-size="15" text-anchor="end">1000</text>
<text x="77" y="267.2" font-size="15" text-anchor="end">2000</text>
<text x="77" y="205.6" font-size="15" text-anchor="end">3000</text>
<text x="77" y="143.9" font-size="15" text-anchor="end">4000</text>
<text x="77" y="82.2" font-size="15" text-anchor="end">5000</text>
<text x="77" y="20.5" font-size="15" text-anchor="end">6000</text>
<text x="314.7" y="444.1" font-size="19" text-anchor="middle">Temperature (<tspan font-size="12.5" dy="-8.6">o</tspan><tspan dy="8.6">C)</tspan></text>
<text transform="translate(24.8,191.3) rotate(-90)" font-size="19.3" text-anchor="middle">Storage Modulus (MPa)</text>
<path d="M371.3,34.5H407" stroke="#000000" stroke-width="2.25" stroke-linecap="round" fill="none"/>
<rect x="384.0" y="29.5" width="10" height="10" fill="#000000"/>
<text x="411.4" y="39.5" font-size="15.2">Copolymer</text>
<path d="M371.3,54.5H407" stroke="#ff0000" stroke-width="2.65" stroke-linecap="round" fill="none"/>
<circle cx="389.0" cy="54.5" r="5.0" fill="none" stroke="#ff0000" stroke-width="1.25"/><path d="M384.0,54.5h10M389.0,49.5v10" stroke="#ff0000" stroke-width="1.15" fill="none"/>
<text x="411.4" y="59.5" font-size="15.2">SDPF-15</text>
<path d="M371.3,74.5H407" stroke="#0000ff" stroke-width="2.65" stroke-linecap="round" fill="none"/>
<circle cx="389.0" cy="74.5" r="5.35" fill="#fff" stroke="#0000ff" stroke-width="1.3"/>
<text x="411.4" y="79.5" font-size="15.2">SDPF-30</text>
<path d="M371.3,94.4H407" stroke="#24a05b" stroke-width="2.65" stroke-linecap="round" fill="none"/>
<circle cx="389.0" cy="94.4" r="5.0" fill="none" stroke="#24a05b" stroke-width="1.25"/><path d="M383.3,88.7l11.4,11.4M394.7,88.7l-11.4,11.4" stroke="#24a05b" stroke-width="1.15" fill="none"/>
<text x="411.4" y="99.4" font-size="15.2">SDPF-45</text>
<path d="M371.3,114.4H407" stroke="#b263df" stroke-width="2.65" stroke-linecap="round" fill="none"/>
<path d="M389.0,107.2L395.4,118.4L382.6,118.4Z" fill="#fff" stroke="#b263df" stroke-width="1.25"/><path d="M389.0,107.2L395.4,118.4L389.0,118.4Z" fill="#b263df" stroke="#b263df" stroke-width="1"/>
<text x="411.4" y="119.4" font-size="15.2">H(SDPF/SGF)-1</text>
<path d="M371.3,134.4H407" stroke="#d0990e" stroke-width="2.65" stroke-linecap="round" fill="none"/>
<path d="M389.0,127.1L395.4,138.3L382.6,138.3Z" fill="#fff" stroke="#d0990e" stroke-width="1.25"/>
<text x="411.4" y="139.4" font-size="15.2">H(SDPF/SGF)-2</text>
</svg></body></html>
